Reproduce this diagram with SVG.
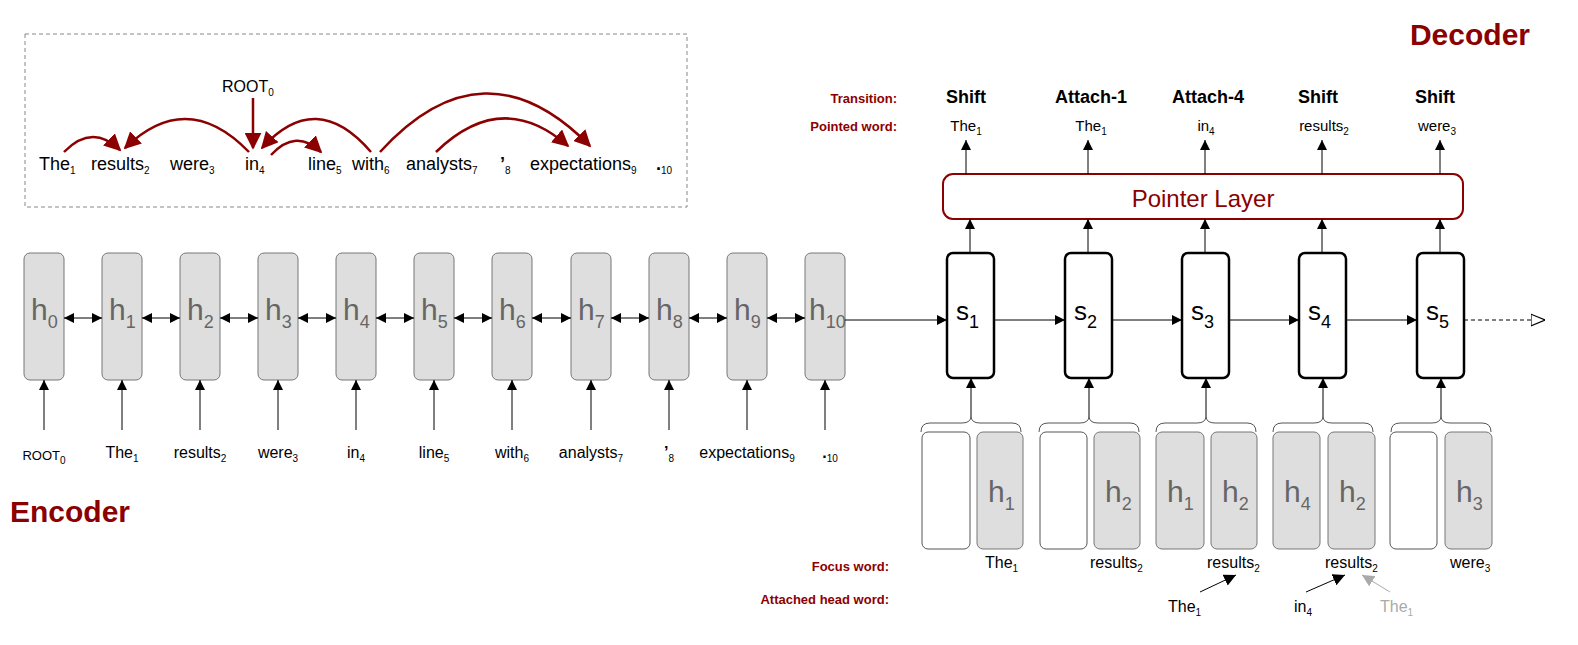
<svg xmlns="http://www.w3.org/2000/svg" width="1578" height="645" viewBox="0 0 1578 645">
<style>
text{font-family:"Liberation Sans",Arial,sans-serif}
.hb{fill:#dedede;stroke:#777;stroke-width:1}
.wb{fill:#fff;stroke:#555;stroke-width:1}
.sb{fill:#fff;stroke:#000;stroke-width:2.5}
.h{font-size:30px;fill:#666}
.hs{font-size:18px;fill:#666}
.w{font-size:16px;fill:#000}
.tw{font-size:18px;fill:#000}
.sub{font-size:10px}
.red{stroke:#8b0000;stroke-width:2.5;fill:none}
.ln{stroke:#000;stroke-width:1;fill:none}
.lab{font-size:13px;font-weight:bold;fill:#8b0000;text-anchor:end}
.tr{font-size:18px;font-weight:bold;text-anchor:middle}
.pw{font-size:15px;text-anchor:middle}
</style>
<defs>
<marker id="a" viewBox="0 0 10 10" refX="10" refY="5" markerWidth="10" markerHeight="10" markerUnits="userSpaceOnUse" orient="auto"><path d="M0,0L10,5L0,10z" fill="#000"/></marker>
<marker id="ag" viewBox="0 0 10 10" refX="10" refY="5" markerWidth="12" markerHeight="12" markerUnits="userSpaceOnUse" orient="auto"><path d="M0,0L10,5L0,10z" fill="#aaa"/></marker>
<marker id="ab" viewBox="0 0 10 10" refX="10" refY="5" markerWidth="12" markerHeight="12" markerUnits="userSpaceOnUse" orient="auto"><path d="M0,0L10,5L0,10z" fill="#000"/></marker>
<marker id="as" viewBox="0 0 10 10" refX="0" refY="5" markerWidth="10" markerHeight="10" markerUnits="userSpaceOnUse" orient="auto"><path d="M10,0L0,5L10,10z" fill="#000"/></marker>
<marker id="ao" viewBox="0 0 12 12" refX="12" refY="6" markerWidth="14" markerHeight="14" markerUnits="userSpaceOnUse" orient="auto"><path d="M0,1L12,6L0,11z" fill="#fff" stroke="#000"/></marker>
<marker id="r" viewBox="0 0 10 10" refX="9" refY="5" markerWidth="17" markerHeight="17" markerUnits="userSpaceOnUse" orient="auto"><path d="M0,0L10,5L0,10z" fill="#8b0000"/></marker>
</defs>

<text x="1530" y="45" font-size="30" font-weight="bold" fill="#8b0000" text-anchor="end">Decoder</text>
<text x="10" y="522" font-size="30" font-weight="bold" fill="#8b0000">Encoder</text>

<g id="tree">
<rect x="25" y="34" width="662" height="173" fill="none" stroke="#888" stroke-dasharray="4,3"/>
<g class="tw">
<text x="39" y="170">The<tspan class="sub" dy="4">1</tspan></text>
<text x="91" y="170">results<tspan class="sub" dy="4">2</tspan></text>
<text x="170" y="170">were<tspan class="sub" dy="4">3</tspan></text>
<text x="245" y="170">in<tspan class="sub" dy="4">4</tspan></text>
<text x="308" y="170">line<tspan class="sub" dy="4">5</tspan></text>
<text x="352" y="170">with<tspan class="sub" dy="4">6</tspan></text>
<text x="406" y="170">analysts<tspan class="sub" dy="4">7</tspan></text>
<text x="500" y="170" font-weight="bold">’<tspan class="sub" font-weight="normal" dy="4">8</tspan></text>
<text x="530" y="170">expectations<tspan class="sub" dy="4">9</tspan></text>
<text x="656" y="170" font-weight="bold">.<tspan class="sub" font-weight="normal" dy="4">10</tspan></text>
<text x="222" y="92" font-size="16">ROOT<tspan class="sub" dy="4">0</tspan></text>
</g>
<path class="red" d="M253,98L253,148" marker-end="url(#r)"/>
<path class="red" d="M64,152Q92,123 120,150" marker-end="url(#r)"/>
<path class="red" d="M249,152Q187,88 125,148" marker-end="url(#r)"/>
<path class="red" d="M271,155Q296,128 321,152" marker-end="url(#r)"/>
<path class="red" d="M371,152Q316,88 262,148" marker-end="url(#r)"/>
<path class="red" d="M380,152Q484,38 590,146" marker-end="url(#r)"/>
<path class="red" d="M436,152Q502,88 568,146" marker-end="url(#r)"/>
</g>

<g id="encoder">
<g id="h0"><rect class="hb" x="24" y="253" width="40" height="127" rx="6"/><text x="31" y="320" class="h">h<tspan class="hs" dy="8">0</tspan></text></g>
<g id="h1"><rect class="hb" x="102" y="253" width="40" height="127" rx="6"/><text x="109" y="320" class="h">h<tspan class="hs" dy="8">1</tspan></text></g>
<g id="h2"><rect class="hb" x="180" y="253" width="40" height="127" rx="6"/><text x="187" y="320" class="h">h<tspan class="hs" dy="8">2</tspan></text></g>
<g id="h3"><rect class="hb" x="258" y="253" width="40" height="127" rx="6"/><text x="265" y="320" class="h">h<tspan class="hs" dy="8">3</tspan></text></g>
<g id="h4"><rect class="hb" x="336" y="253" width="40" height="127" rx="6"/><text x="343" y="320" class="h">h<tspan class="hs" dy="8">4</tspan></text></g>
<g id="h5"><rect class="hb" x="414" y="253" width="40" height="127" rx="6"/><text x="421" y="320" class="h">h<tspan class="hs" dy="8">5</tspan></text></g>
<g id="h6"><rect class="hb" x="492" y="253" width="40" height="127" rx="6"/><text x="499" y="320" class="h">h<tspan class="hs" dy="8">6</tspan></text></g>
<g id="h7"><rect class="hb" x="571" y="253" width="40" height="127" rx="6"/><text x="578" y="320" class="h">h<tspan class="hs" dy="8">7</tspan></text></g>
<g id="h8"><rect class="hb" x="649" y="253" width="40" height="127" rx="6"/><text x="656" y="320" class="h">h<tspan class="hs" dy="8">8</tspan></text></g>
<g id="h9"><rect class="hb" x="727" y="253" width="40" height="127" rx="6"/><text x="734" y="320" class="h">h<tspan class="hs" dy="8">9</tspan></text></g>
<g id="h10"><rect class="hb" x="805" y="253" width="40" height="127" rx="6"/><text x="809" y="320" class="h">h<tspan class="hs" dy="8">10</tspan></text></g>
<g class="w" font-size="15">
<text x="44" y="460" text-anchor="middle" font-size="13">ROOT<tspan class="sub" dy="4">0</tspan></text>
<text x="122" y="458" text-anchor="middle">The<tspan class="sub" dy="4">1</tspan></text>
<text x="200" y="458" text-anchor="middle">results<tspan class="sub" dy="4">2</tspan></text>
<text x="278" y="458" text-anchor="middle">were<tspan class="sub" dy="4">3</tspan></text>
<text x="356" y="458" text-anchor="middle">in<tspan class="sub" dy="4">4</tspan></text>
<text x="434" y="458" text-anchor="middle">line<tspan class="sub" dy="4">5</tspan></text>
<text x="512" y="458" text-anchor="middle">with<tspan class="sub" dy="4">6</tspan></text>
<text x="591" y="458" text-anchor="middle">analysts<tspan class="sub" dy="4">7</tspan></text>
<text x="669" y="458" text-anchor="middle" font-weight="bold">’<tspan class="sub" font-weight="normal" dy="4">8</tspan></text>
<text x="747" y="458" text-anchor="middle">expectations<tspan class="sub" dy="4">9</tspan></text>
<text x="830" y="458" text-anchor="middle" font-weight="bold">.<tspan class="sub" font-weight="normal" dy="4">10</tspan></text>
</g>
</g>

<g id="decoder">
<rect id="pointer" x="943" y="174" width="520" height="45" rx="10" fill="#fff" stroke="#8b0000" stroke-width="2"/>
<text x="1203" y="207" font-size="24" fill="#8b0000" text-anchor="middle">Pointer Layer</text>
<g id="s1"><rect class="sb" x="947" y="253" width="47" height="125" rx="6"/><text x="956" y="320" font-size="26">s<tspan font-size="18" dy="8">1</tspan></text></g>
<g id="s2"><rect class="sb" x="1065" y="253" width="47" height="125" rx="6"/><text x="1074" y="320" font-size="26">s<tspan font-size="18" dy="8">2</tspan></text></g>
<g id="s3"><rect class="sb" x="1182" y="253" width="47" height="125" rx="6"/><text x="1191" y="320" font-size="26">s<tspan font-size="18" dy="8">3</tspan></text></g>
<g id="s4"><rect class="sb" x="1299" y="253" width="47" height="125" rx="6"/><text x="1308" y="320" font-size="26">s<tspan font-size="18" dy="8">4</tspan></text></g>
<g id="s5"><rect class="sb" x="1417" y="253" width="47" height="125" rx="6"/><text x="1426" y="320" font-size="26">s<tspan font-size="18" dy="8">5</tspan></text></g>
<text x="897" y="103" class="lab">Transition:</text>
<text x="897" y="131" class="lab">Pointed word:</text>
<text x="889" y="571" class="lab">Focus word:</text>
<text x="889" y="604" class="lab">Attached head word:</text>
<text x="966" y="103" class="tr">Shift</text>
<text x="1091" y="103" class="tr">Attach-1</text>
<text x="1208" y="103" class="tr">Attach-4</text>
<text x="1318" y="103" class="tr">Shift</text>
<text x="1435" y="103" class="tr">Shift</text>
<text x="966" y="131" class="pw">The<tspan class="sub" dy="4">1</tspan></text>
<text x="1091" y="131" class="pw">The<tspan class="sub" dy="4">1</tspan></text>
<text x="1206" y="131" class="pw">in<tspan class="sub" dy="4">4</tspan></text>
<text x="1324" y="131" class="pw">results<tspan class="sub" dy="4">2</tspan></text>
<text x="1437" y="131" class="pw">were<tspan class="sub" dy="4">3</tspan></text>

<g id="pairs">
<rect class="wb" x="922" y="432" width="48" height="117" rx="6"/><rect class="hb" x="977" y="432" width="46" height="117" rx="6"/><text x="988" y="502" class="h">h<tspan class="hs" dy="8">1</tspan></text>
<rect class="wb" x="1040" y="432" width="47" height="117" rx="6"/><rect class="hb" x="1094" y="432" width="46" height="117" rx="6"/><text x="1105" y="502" class="h">h<tspan class="hs" dy="8">2</tspan></text>
<rect class="hb" x="1156" y="432" width="48" height="117" rx="6"/><text x="1167" y="502" class="h">h<tspan class="hs" dy="8">1</tspan></text><rect class="hb" x="1211" y="432" width="46" height="117" rx="6"/><text x="1222" y="502" class="h">h<tspan class="hs" dy="8">2</tspan></text>
<rect class="hb" x="1273" y="432" width="47" height="117" rx="6"/><text x="1284" y="502" class="h">h<tspan class="hs" dy="8">4</tspan></text><rect class="hb" x="1328" y="432" width="47" height="117" rx="6"/><text x="1339" y="502" class="h">h<tspan class="hs" dy="8">2</tspan></text>
<rect class="wb" x="1390" y="432" width="47" height="117" rx="6"/><rect class="hb" x="1445" y="432" width="47" height="117" rx="6"/><text x="1456" y="502" class="h">h<tspan class="hs" dy="8">3</tspan></text>
</g>
<g id="braces" fill="none" stroke="#555" stroke-width="1">
<path d="M921,432Q921,423 930,423L962,423Q971,423 971,416Q971,423 980,423L1012,423Q1021,423 1021,432"/>
<path d="M1039,432Q1039,423 1048,423L1080,423Q1089,423 1089,416Q1089,423 1098,423L1130,423Q1139,423 1139,432"/>
<path d="M1156,432Q1156,423 1165,423L1197,423Q1206,423 1206,416Q1206,423 1215,423L1247,423Q1256,423 1256,432"/>
<path d="M1273,432Q1273,423 1282,423L1314,423Q1323,423 1323,416Q1323,423 1332,423L1364,423Q1373,423 1373,432"/>
<path d="M1391,432Q1391,423 1400,423L1432,423Q1441,423 1441,416Q1441,423 1450,423L1482,423Q1491,423 1491,432"/>
</g>
<g class="w" font-size="15">
<text x="985" y="568">The<tspan class="sub" dy="4">1</tspan></text>
<text x="1090" y="568">results<tspan class="sub" dy="4">2</tspan></text>
<text x="1207" y="568">results<tspan class="sub" dy="4">2</tspan></text>
<text x="1325" y="568">results<tspan class="sub" dy="4">2</tspan></text>
<text x="1450" y="568">were<tspan class="sub" dy="4">3</tspan></text>
<text x="1168" y="612">The<tspan class="sub" dy="4">1</tspan></text>
<text x="1294" y="612">in<tspan class="sub" dy="4">4</tspan></text>
<text x="1380" y="612" fill="#aaa">The<tspan class="sub" dy="4">1</tspan></text>
</g>
</g>

<g id="connectors" class="ln">
<g marker-start="url(#as)" marker-end="url(#a)">
<path d="M64,318H102"/><path d="M142,318H180"/><path d="M220,318H258"/><path d="M298,318H336"/><path d="M376,318H414"/><path d="M454,318H492"/><path d="M532,318H571"/><path d="M611,318H649"/><path d="M689,318H727"/><path d="M767,318H805"/>
</g>
<g marker-end="url(#a)">
<path d="M44,430V380"/><path d="M122,430V380"/><path d="M200,430V380"/><path d="M278,430V380"/><path d="M356,430V380"/><path d="M434,430V380"/><path d="M512,430V380"/><path d="M591,430V380"/><path d="M669,430V380"/><path d="M747,430V380"/><path d="M825,430V380"/>
<path d="M845,320H947"/><path d="M994,320H1065"/><path d="M1112,320H1182"/><path d="M1229,320H1299"/><path d="M1346,320H1417"/>
<path d="M971,416V378"/><path d="M1089,416V378"/><path d="M1206,416V378"/><path d="M1323,416V378"/><path d="M1441,416V378"/>
<path d="M970,253V219"/><path d="M1088,253V219"/><path d="M1205,253V219"/><path d="M1322,253V219"/><path d="M1440,253V219"/>
<path d="M966,174V140"/><path d="M1088,174V140"/><path d="M1205,174V140"/><path d="M1322,174V140"/><path d="M1440,174V140"/>
</g>
<path d="M1464,320H1545" stroke-dasharray="4,3" marker-end="url(#ao)"/>
<path d="M1200,592L1236,575" marker-end="url(#ab)"/>
<path d="M1306,592L1345,575" marker-end="url(#ab)"/>
<path d="M1390,592L1362,575" stroke="#aaa" marker-end="url(#ag)"/>
</g>
</svg>
